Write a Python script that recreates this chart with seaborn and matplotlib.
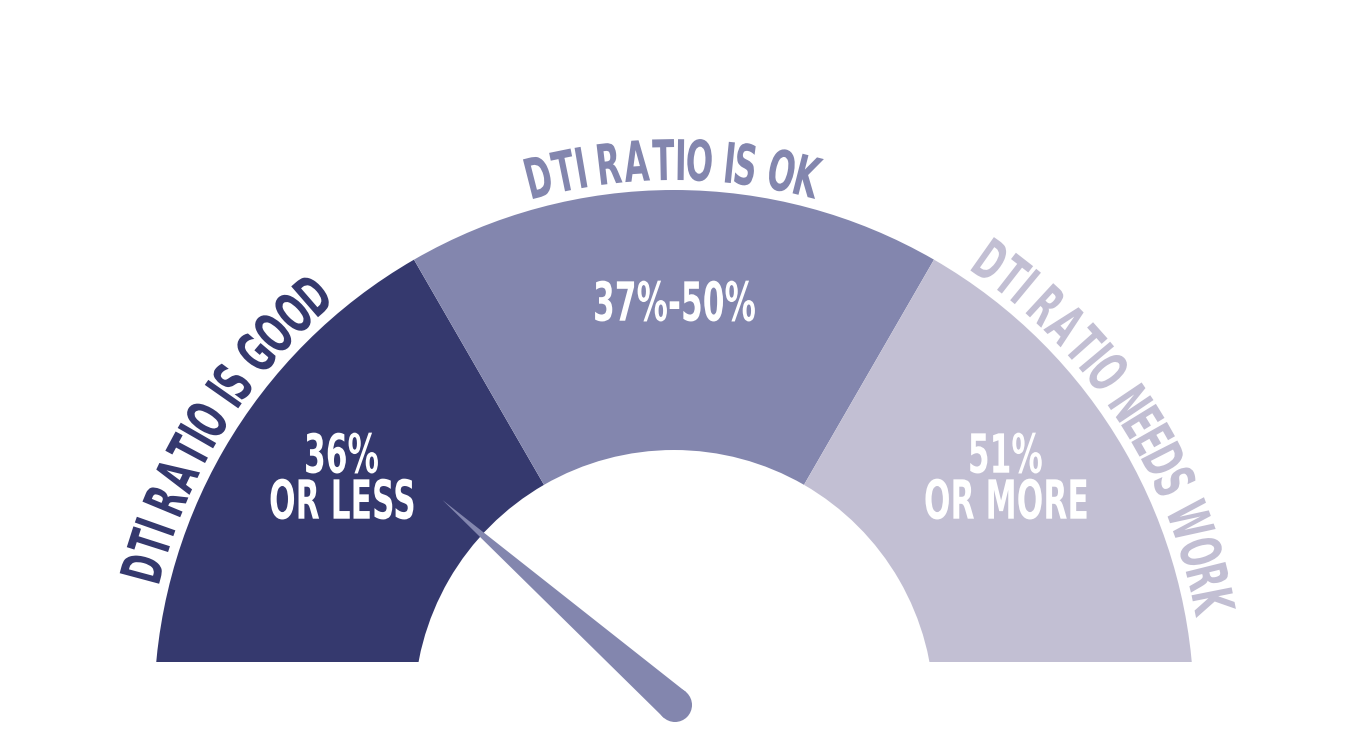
import matplotlib
matplotlib.use("Agg")
import numpy as np
import seaborn as sns
import matplotlib.pyplot as plt
from matplotlib.patches import Wedge, Rectangle, Circle, Polygon, PathPatch
from matplotlib.textpath import TextPath
from matplotlib.font_manager import FontProperties
from matplotlib.transforms import Affine2D

sns.set_theme(style="white")
plt.rcParams['font.family'] = ['DejaVu Sans']

# data
zone_labels = ["DTI RATIO IS GOOD", "DTI RATIO IS OK", "DTI RATIO NEEDS WORK"]
zone_ranges = [["36%", "OR LESS"], ["37%-50%"], ["51%", "OR MORE"]]
zone_shares = [1, 1, 1]
zone_colors = ["#35396E", "#8386AE", "#C2BFD3"]
needle_value = 0.23  # fraction of gauge from left

fig = plt.figure(figsize=(13.5, 7.5), dpi=100)
ax = fig.add_axes([0, 0, 1, 1])
ax.set_xlim(0, 1350); ax.set_ylim(750, 0); ax.axis("off")

cx, cy, R, r = 674, 710, 520, 260
clip = Rectangle((0, 0), 1350, 662, transform=ax.transData, visible=False)
ax.add_patch(clip)
bounds = np.cumsum([0] + zone_shares) / sum(zone_shares)
for i, col in enumerate(zone_colors):
    a1 = 180 - bounds[i + 1] * 180
    a2 = 180 - bounds[i] * 180
    w = Wedge((cx, cy), R, -a2, -a1, width=R - r, facecolor=col, edgecolor="none")
    ax.add_patch(w)
    w.set_clip_path(clip)

prop = FontProperties(family="DejaVu Sans", weight="bold")
SX = 0.58
CAP = 0.73

def draw_str(s, x, y, rot, size, color, vcenter=False):
    tp = TextPath((0, 0), s, size=size, prop=prop)
    ext = tp.get_extents()
    yoff = size * CAP / 2 if vcenter else 0
    tr = (Affine2D().translate(-(ext.x0 + ext.width / 2), -yoff)
          .scale(SX, 1).scale(1, -1).rotate_deg(-rot).translate(x, y))
    ax.add_patch(PathPatch(tr.transform_path(tp), facecolor=color, edgecolor="none", lw=0))

# inner labels
S_IN = 54
draw_str(zone_ranges[0][0], 342, 453, 0, S_IN, "white", True)
draw_str(zone_ranges[0][1], 342, 499, 0, S_IN, "white", True)
draw_str(zone_ranges[1][0], 675, 301, 0, S_IN, "white", True)
draw_str(zone_ranges[2][0], 1006, 453, 0, S_IN, "white", True)
draw_str(zone_ranges[2][1], 1006, 499, 0, S_IN, "white", True)

# curved labels
S_ARC = 56
def arc_text(s, center_deg, radius, color):
    widths = []
    for ch in s:
        if ch == " ":
            widths.append(S_ARC * 0.2)
        else:
            tp = TextPath((0, 0), ch, size=S_ARC, prop=prop)
            widths.append(tp.get_extents().width * SX + S_ARC * 0.05)
    total = sum(widths)
    start = np.radians(center_deg) + (total / 2) / radius
    pos = 0
    for ch, w in zip(s, widths):
        th = start - (pos + w / 2) / radius
        x = cx + radius * np.cos(th)
        y = cy - radius * np.sin(th)
        if ch != " ":
            draw_str(ch, x, y, np.degrees(th) - 90, S_ARC, color)
        pos += w

arc_text(zone_labels[0], 148, 530, zone_colors[0])
arc_text(zone_labels[1], 90, 530, zone_colors[1])
arc_text(zone_labels[2], 33, 530, zone_colors[2])

# needle
th = np.radians(180 - needle_value * 180)
px0, py0 = 675, 705
L = 310
tip = (px0 + L * np.cos(th), py0 - L * np.sin(th))
hw = 17
nx, ny = np.sin(th), np.cos(th)
poly = Polygon([tip, (px0 + hw * nx, py0 + hw * ny), (px0 - hw * nx, py0 - hw * ny)],
               facecolor=zone_colors[1], edgecolor="none")
ax.add_patch(poly)
ax.add_patch(Circle((px0, py0), hw, facecolor=zone_colors[1], edgecolor="none"))

fig.savefig("out.png", dpi=100, facecolor="white")
